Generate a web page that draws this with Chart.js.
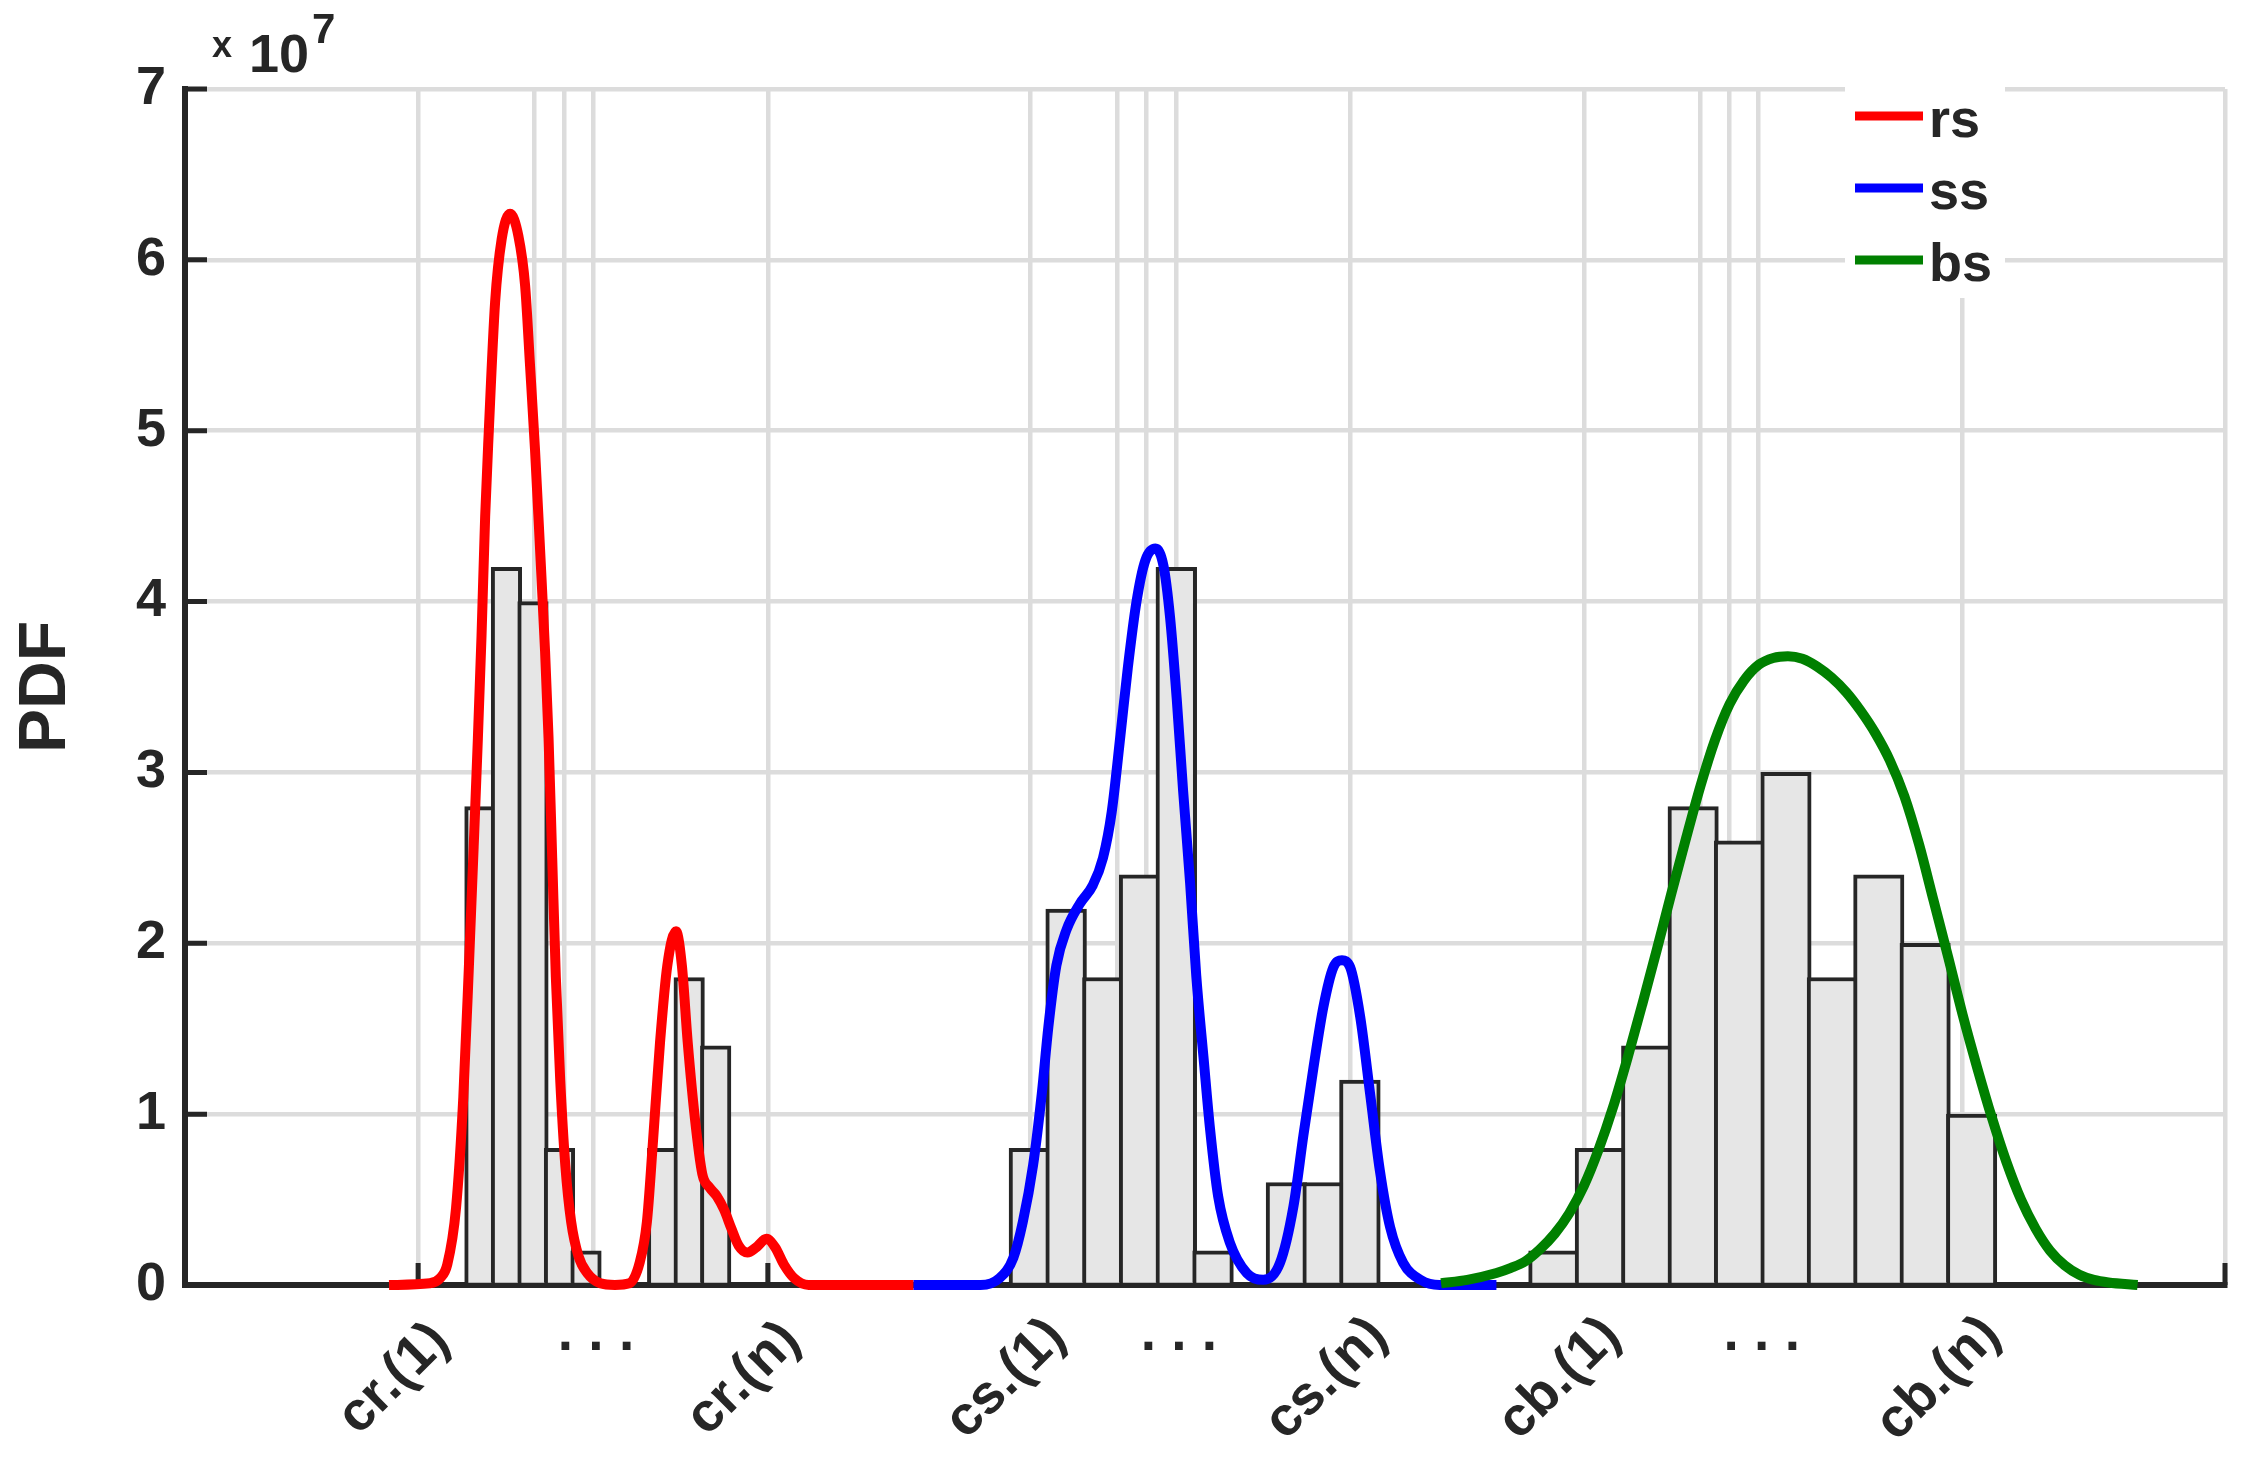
<!DOCTYPE html>
<html>
<head>
<meta charset="utf-8">
<title>PDF</title>
<script src="https://cdn.jsdelivr.net/npm/chart.js@4.4.1/dist/chart.umd.min.js"></script>
<style>
  html, body { margin: 0; padding: 0; background: #fff; }
  canvas { display: block; }
</style>
</head>
<body>
<canvas id="pdfChart" width="2253" height="1468"></canvas>
<script>
// x axis ticks (grid lines) and their labels
const xTickValues = [16, 24, 26, 28, 40, 58, 64, 66, 68, 80, 96, 104, 106, 108, 122, 140];
const xTickLabels = ['cr.(1)', '', '', '. . .', 'cr.(n)', 'cs.(1)', '', '', '. . .', 'cs.(n)',
                     'cb.(1)', '', '', '. . .', 'cb.(n)', ''];

// histograms (values are x 10^7)
const rsBinCenters = [20.24, 22.06, 23.88, 25.70, 27.52, 32.78, 34.60, 36.42];
const rsBinValues = [2.8, 4.2, 4.0, 0.8, 0.2, 0.8, 1.8, 1.4];
const rsBinWidth = 1.82;

const ssBinCenters = [57.95, 60.47, 62.99, 65.51, 68.03, 70.55, 73.07, 75.59, 78.11, 80.63];
const ssBinValues = [0.8, 2.2, 1.8, 2.4, 4.2, 0.2, 0, 0.6, 0.6, 1.2];
const ssBinWidth = 2.52;

const bsBinCenters = [93.94, 97.13, 100.31, 103.50, 106.68, 109.87, 113.05, 116.24, 119.42, 122.61];
const bsBinValues = [0.2, 0.8, 1.4, 2.8, 2.6, 3.0, 1.8, 2.4, 2.0, 1.0];
const bsBinWidth = 3.185;

// fitted PDF curves
const rsX = [14.0, 16.8, 17.5, 18.0, 18.6, 19.1, 19.5, 19.85, 20.1, 20.35, 20.6, 20.85, 21.28, 21.73, 22.31,
             22.88, 23.34, 23.68, 24.02, 24.37, 24.71, 24.95, 25.2, 25.45, 25.75, 26.1, 26.5, 27.0, 27.6,
             28.5, 29.5, 30.5, 31.2, 31.7, 32.1, 32.6, 33.1, 33.7, 34.1, 34.5, 35.0, 35.5, 36.0, 36.5,
             37.0, 37.5, 38.0, 38.6, 39.2, 39.9, 40.5, 41.1, 41.8, 42.8, 50.0];
const rsY = [0, 0.01, 0.04, 0.12, 0.45, 1.1, 1.9, 2.65, 3.2, 3.8, 4.5, 5.0, 5.75, 6.12, 6.27,
             6.14, 5.85, 5.38, 4.89, 4.30, 3.71, 3.2, 2.5, 1.8, 1.2, 0.7, 0.37, 0.17, 0.07,
             0.01, 0, 0.01, 0.13, 0.37, 0.82, 1.42, 1.87, 2.07, 1.87, 1.42, 0.97, 0.65, 0.57, 0.52,
             0.44, 0.33, 0.23, 0.19, 0.22, 0.27, 0.22, 0.12, 0.04, 0, 0];

const ssX = [50.0, 54.6, 55.9, 56.85, 57.5, 58.2, 58.8, 59.25, 59.8, 60.5, 61.4, 62.3, 63.0, 63.6, 64.2,
             64.7, 65.3, 65.9, 66.6, 67.15, 67.6, 68.06, 68.5, 68.98, 69.4, 69.9, 70.35, 70.9, 71.7, 72.87,
             74.0, 75.15, 76.07, 76.76, 77.44, 78.13, 78.81, 79.4, 79.96, 80.65, 81.33, 82.0, 82.7, 83.6,
             84.8, 86.1, 90.0];
const ssY = [0, 0, 0.04, 0.16, 0.37, 0.70, 1.12, 1.51, 1.87, 2.08, 2.23, 2.34, 2.50, 2.77, 3.22,
             3.61, 4.00, 4.24, 4.31, 4.21, 3.91, 3.43, 2.89, 2.35, 1.81, 1.33, 0.91, 0.52, 0.25, 0.07,
             0.03, 0.13, 0.46, 0.88, 1.27, 1.63, 1.86, 1.90, 1.86, 1.57, 1.12, 0.67, 0.34, 0.13,
             0.03, 0, 0];

const bsX = [86.2, 88, 90, 91, 92, 93, 94, 95, 96, 97, 98, 99, 100, 101, 102, 103, 104, 105, 106, 107,
             108, 109, 110, 111, 112, 113, 114, 115, 116, 117, 118, 119, 120, 121, 122, 123, 124,
             125, 126, 127, 128, 129, 130, 131, 132, 134];
const bsY = [0.01, 0.03, 0.07, 0.10, 0.14, 0.21, 0.30, 0.42, 0.58, 0.79, 1.04, 1.33, 1.64, 1.96, 2.29,
             2.61, 2.92, 3.19, 3.40, 3.54, 3.63, 3.67, 3.68, 3.665, 3.62, 3.555, 3.47, 3.36, 3.23, 3.07,
             2.86, 2.58, 2.25, 1.92, 1.58, 1.27, 0.98, 0.72, 0.50, 0.33, 0.20, 0.115, 0.06, 0.03,
             0.015, 0];

const INK = '#262626';
const GRID = '#dcdcdc';
const FONT = "'Liberation Sans', Arial, Helvetica, sans-serif";

Chart.defaults.font.family = FONT;
Chart.defaults.font.weight = 'bold';
Chart.defaults.color = INK;

function pdfLine(label, xs, ys, color, order) {
    return {
        type: 'line',
        label: label,
        data: xs.map((x, i) => ({ x: x, y: ys[i] })),
        borderColor: color,
        backgroundColor: color,
        borderWidth: 10,
        pointRadius: 0,
        fill: false,
        cubicInterpolationMode: 'monotone',
        clip: false,
        order: order
    };
}

function histBars(label, centers, values, width, order) {
    return {
        type: 'bar',
        label: label,
        data: centers.map((c, i) => ({ x: c, y: values[i] })),
        binWidth: width,
        backgroundColor: '#e6e6e6',
        borderColor: INK,
        borderWidth: 4,
        barThickness: 10,
        grouped: false,
        order: order
    };
}

// MATLAB-like decorations: inward ticks, rotated labels, exponent, legend
const matlabAxes = {
    id: 'matlabAxes',
    beforeDatasetsDraw(chart) {
        const { ctx, chartArea, scales: { x, y } } = chart;
        ctx.save();
        ctx.strokeStyle = INK;
        ctx.lineWidth = 5;
        ctx.beginPath();
        y.ticks.forEach(t => {
            const py = y.getPixelForValue(t.value);
            ctx.moveTo(chartArea.left, py);
            ctx.lineTo(chartArea.left + 22, py);
        });
        x.ticks.forEach(t => {
            const px = x.getPixelForValue(t.value);
            ctx.moveTo(px, chartArea.bottom);
            ctx.lineTo(px, chartArea.bottom - 22);
        });
        ctx.stroke();
        ctx.restore();
    },
    afterDraw(chart) {
        const { ctx, chartArea, scales: { x } } = chart;
        ctx.save();
        ctx.fillStyle = INK;

        // x tick labels
        ctx.font = 'bold 55px ' + FONT;
        xTickValues.forEach((v, i) => {
            const label = xTickLabels[i];
            if (!label) return;
            const px = x.getPixelForValue(v);
            if (label === '. . .') {
                ctx.textAlign = 'center';
                ctx.textBaseline = 'alphabetic';
                ctx.fillText(label, px + 3, chartArea.bottom + 65);
            } else {
                ctx.save();
                ctx.translate(px - 24, chartArea.bottom + 94);
                ctx.rotate(-Math.PI / 4);
                ctx.textAlign = 'center';
                ctx.textBaseline = 'middle';
                ctx.fillText(label, 0, 0);
                ctx.restore();
            }
        });

        // exponent label
        ctx.textAlign = 'left';
        ctx.textBaseline = 'alphabetic';
        ctx.font = 'bold 36px ' + FONT;
        ctx.fillText('x', chartArea.left + 27, chartArea.top - 32);
        ctx.font = 'bold 54px ' + FONT;
        ctx.fillText('10', chartArea.left + 64, chartArea.top - 17);
        ctx.font = 'bold 42px ' + FONT;
        ctx.fillText('7', chartArea.left + 127, chartArea.top - 46);

        // legend
        const boxL = chartArea.right - 380;
        const boxR = chartArea.right - 220;
        ctx.fillStyle = '#ffffff';
        ctx.fillRect(boxL, chartArea.top - 6, boxR - boxL, 215);
        ctx.font = 'bold 54px ' + FONT;
        chart.data.datasets.filter(ds => ds.type === 'line').forEach((ds, i) => {
            const ly = chartArea.top + 27 + i * 72;
            ctx.strokeStyle = ds.borderColor;
            ctx.lineWidth = 9;
            ctx.beginPath();
            ctx.moveTo(boxL + 10, ly);
            ctx.lineTo(boxL + 78, ly);
            ctx.stroke();
            ctx.fillStyle = INK;
            ctx.fillText(ds.label, boxL + 84, ly + 21);
        });
        ctx.restore();
    }
};

const chart = new Chart(document.getElementById('pdfChart'), {
    type: 'bar',
    data: {
        datasets: [
            pdfLine('rs', rsX, rsY, '#ff0000', 2),
            pdfLine('ss', ssX, ssY, '#0000ff', 1),
            pdfLine('bs', bsX, bsY, '#008000', 0),
            histBars('rs hist', rsBinCenters, rsBinValues, rsBinWidth, 3),
            histBars('ss hist', ssBinCenters, ssBinValues, ssBinWidth, 4),
            histBars('bs hist', bsBinCenters, bsBinValues, bsBinWidth, 5)
        ]
    },
    options: {
        responsive: false,
        devicePixelRatio: 1,
        animation: false,
        layout: { padding: { top: 89, right: 28, left: 0, bottom: 0 } },
        plugins: {
            legend: { display: false },
            tooltip: { enabled: false }
        },
        scales: {
            x: {
                type: 'linear',
                min: 0,
                max: 140,
                offset: false,
                afterBuildTicks: s => { s.ticks = xTickValues.map(v => ({ value: v })); },
                afterFit: s => { s.height = 183; },
                ticks: { display: false },
                grid: { color: GRID, lineWidth: 4.5, drawTicks: false, offset: false },
                border: { color: INK, width: 6 }
            },
            y: {
                min: 0,
                max: 7,
                afterFit: s => { s.width = 185; },
                ticks: { stepSize: 1, padding: 19, color: INK, font: { size: 54, weight: 'bold' } },
                grid: { color: GRID, lineWidth: 4.5, drawTicks: false },
                border: { color: INK, width: 6 },
                title: {
                    display: true,
                    text: 'PDF',
                    color: INK,
                    font: { size: 66, weight: 'bold', lineHeight: 1 },
                    padding: { top: 14, bottom: 0 }
                }
            }
        }
    },
    plugins: [matlabAxes]
});

// bar widths follow each histogram's bin width on the x scale
const xScale = chart.scales.x;
const pxPerUnit = xScale.getPixelForValue(1) - xScale.getPixelForValue(0);
chart.data.datasets.forEach(ds => {
    if (ds.binWidth) ds.barThickness = ds.binWidth * pxPerUnit + ds.borderWidth;
});
chart.update('none');
</script>
</body>
</html>
